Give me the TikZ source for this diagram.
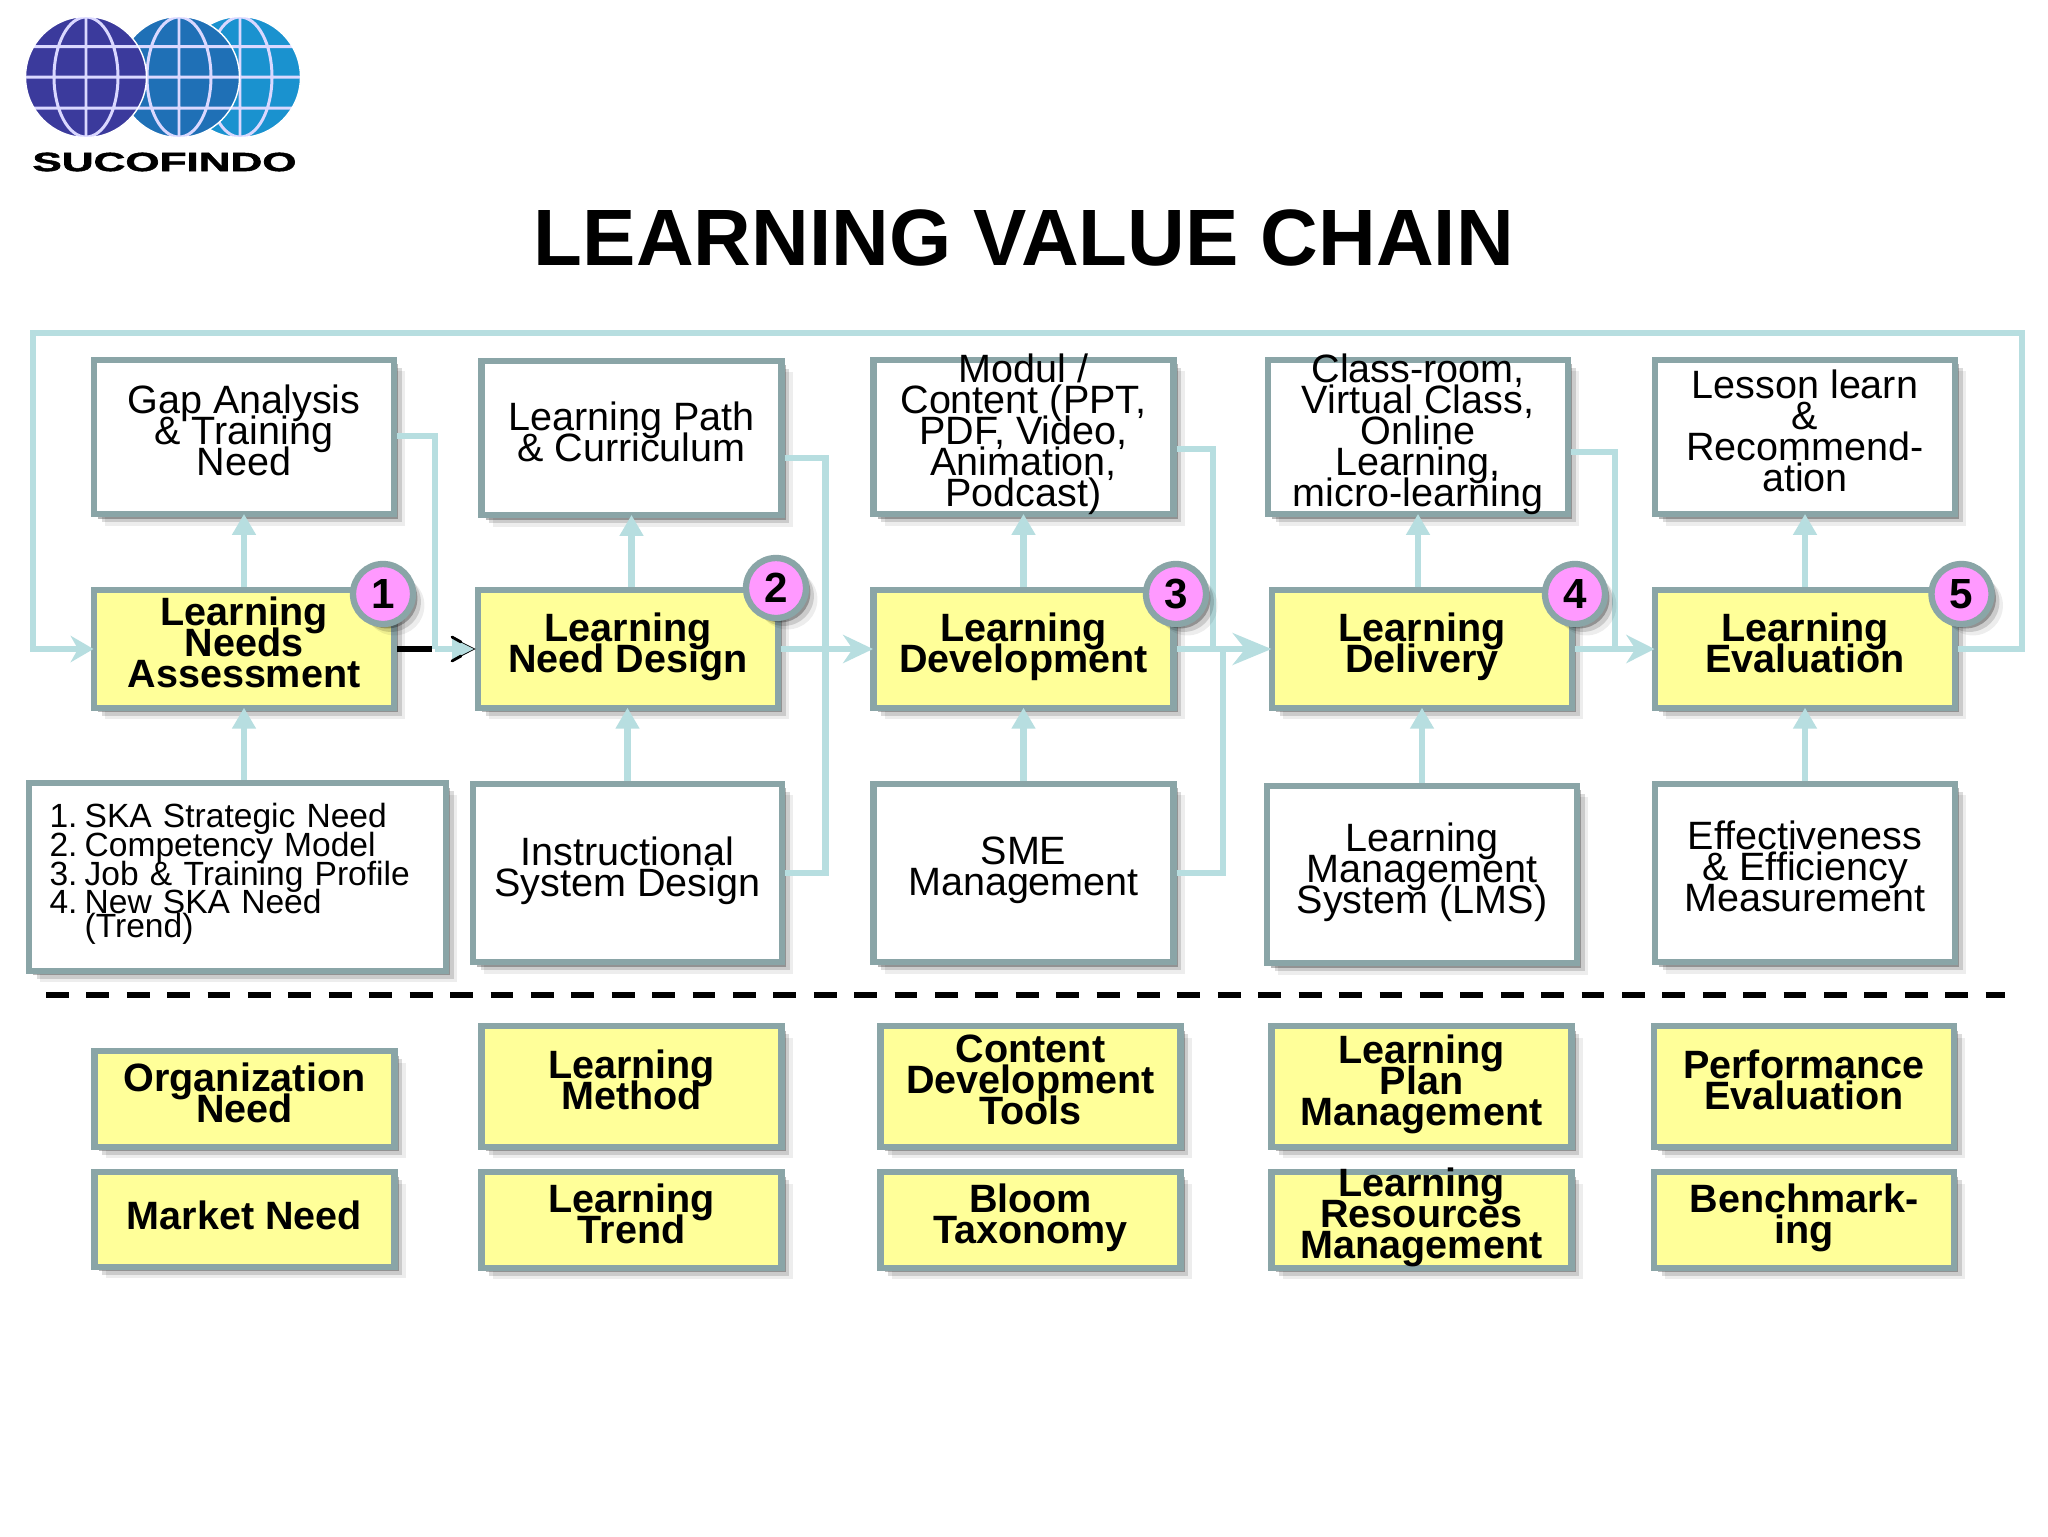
\documentclass[tikz,border=0pt]{standalone}
\usepackage{fontspec}
\setmainfont{Liberation Sans}
\usetikzlibrary{arrows.meta,shadows}
\lineskiplimit=-100pt
\normallineskiplimit=-100pt
\newcommand\liftrow{\\[-10.2pt]\mbox{}}
\definecolor{boxedge}{HTML}{8AA5A7}
\definecolor{boxyellow}{HTML}{FFFF99}
\definecolor{linkteal}{HTML}{B7DEE0}
\definecolor{badgepink}{HTML}{FF99FF}
\definecolor{globeline}{HTML}{DAD8FF}
\tikzset{
  softshadow/.style={general shadow={shadow xshift=2.5pt,shadow yshift=-2.5pt,fill=black,opacity=.28},
    general shadow={shadow xshift=4.5pt,shadow yshift=-4.5pt,fill=black,opacity=.14},
    general shadow={shadow xshift=6.5pt,shadow yshift=-6.5pt,fill=black,opacity=.07}},
  plainbox/.style={rectangle,draw=boxedge,fill=white,line width=3.6pt,inner xsep=0pt,inner ysep=-25pt,
    align=center,softshadow,font=\fontsize{22.5}{17.6}\selectfont,minimum width=6cm,minimum height=3.09cm},
  yellowbox/.style={plainbox,fill=boxyellow,font=\fontsize{22.5}{17.6}\selectfont\bfseries,minimum height=2.36cm},
  badge/.style={circle,draw=boxedge,fill=badgepink,line width=3.6pt,inner sep=0pt,minimum size=1.2cm,
    softshadow,font=\fontsize{24}{24}\selectfont\bfseries},
  link/.style={draw=linkteal,line width=3.8pt,line join=miter},
  uplink/.style={link,shorten >=-2pt,-{Triangle[length=12pt,width=13pt]}},
  chevlink/.style 2 args={link,shorten >=-1.5pt,-{Stealth[length=#1,width=#2,inset=.32*#1]}}
}
\begin{document}
\begin{tikzpicture}[x=0.02cm,y=-0.02cm]
\useasboundingbox (0,0) rectangle (2048,1536);
\fill[white] (0,0) rectangle (2048,1536);
% logo
\foreach \gx/\gcol in {240/1A92CF,179/1F70B6,86/3B3A9C}{
  \definecolor{globecol}{HTML}{\gcol}
  \fill[globecol] (\gx,77) circle (60.5);
  \begin{scope}
    \clip (\gx,77) circle (60.5);
    \draw[globeline,line width=1.7pt] (\gx-61,46.5) -- (\gx+61,46.5) (\gx-61,77) -- (\gx+61,77) (\gx-61,108) -- (\gx+61,108)
      (\gx,16) -- (\gx,138) (\gx,77) ellipse (32 and 60);
  \end{scope}
  \draw[white,line width=.8pt] (\gx,77) circle (60.5);
}
\node[xscale=1.67,font=\fontsize{15}{15}\selectfont\bfseries\addfontfeature{FakeBold=1.6}] (logotext) at (164.5,162) {SUCOFINDO};
\node[font=\fontsize{45.5}{45.5}\selectfont\bfseries] (title) at (1024,238) {LEARNING VALUE CHAIN};
% top row
\node[plainbox] (gap) at (244,437) {Gap Analysis\\\& Training\\Need\liftrow};
\node[plainbox] (path) at (631.5,438) {Learning Path\\\& Curriculum\liftrow};
\node[plainbox] (modul) at (1023.5,437) {Modul /\\Content (PPT,\\PDF, Video,\\Animation,\\Podcast)\liftrow};
\node[plainbox] (class) at (1418,437) {Class-room,\\Virtual Class,\\Online\\Learning,\\micro-learning\liftrow};
\node[plainbox] (lesson) at (1805,437) {Lesson learn\\\&\\Recommend-\\ation\liftrow};
% main chain
\node[yellowbox] (assess) at (244,649) {Learning\\Needs\\Assessment\liftrow};
\node[yellowbox] (design) at (628,649) {Learning\\Need Design\liftrow};
\node[yellowbox] (develop) at (1023.5,649) {Learning\\Development\liftrow};
\node[yellowbox] (deliver) at (1422,649) {Learning\\Delivery\liftrow};
\node[yellowbox] (evaluate) at (1805,649) {Learning\\Evaluation\liftrow};
% third row
\node[plainbox,minimum width=8.34cm,minimum height=3.75cm,text width=7.52cm,align=left,font=\fontsize{19.1}{16.3}\selectfont] (ska) at (237.5,877)
  {\makebox[20pt][l]{1.}SKA Strategic Need\\\makebox[20pt][l]{2.}Competency Model\\\makebox[20pt][l]{3.}Job \& Training Profile\\\makebox[20pt][l]{4.}New SKA Need\\[-3pt]\makebox[20pt][l]{}(Trend)\\[-8.8pt]\mbox{}};
\node[plainbox,minimum width=6.18cm,minimum height=3.57cm] (system) at (627.5,873) {Instructional\\System Design\liftrow};
\node[plainbox,minimum height=3.57cm] (sme) at (1023.5,873) {SME\\Management\liftrow};
\node[plainbox,minimum width=6.2cm,minimum height=3.55cm] (lms) at (1422,874.5) {Learning\\Management\\System (LMS)\liftrow};
\node[plainbox,minimum height=3.57cm] (measure) at (1805,873) {Effectiveness\\\& Efficiency\\Measurement\liftrow};
% dashed divider
\coordinate (dashl) at (46,995);
\coordinate (dashr) at (2005,995);
\draw[black,line width=3.3pt,dash pattern=on 13pt off 10pt] (dashl) -- (dashr);
% bottom rows
\node[yellowbox,minimum height=1.91cm] (org) at (244.5,1099) {Organization\\Need\liftrow};
\node[yellowbox,minimum height=1.89cm] (market) at (244.5,1219.5) {Market Need\\[-13.2pt]\mbox{}};
\node[yellowbox,minimum height=2.41cm] (method) at (631.5,1086.5) {Learning\\Method\liftrow};
\node[yellowbox,minimum height=1.91cm] (trend) at (631.5,1220) {Learning\\Trend\liftrow};
\node[yellowbox,minimum height=2.41cm] (tools) at (1030.5,1086.5) {Content\\Development\\Tools\liftrow};
\node[yellowbox,minimum height=1.91cm] (bloom) at (1030.5,1220) {Bloom\\Taxonomy\liftrow};
\node[yellowbox,minimum height=2.41cm] (plan) at (1421.5,1086.5) {Learning\\Plan\\Management\liftrow};
\node[yellowbox,minimum height=1.91cm] (resource) at (1421.5,1220) {Learning\\Resources\\Management\liftrow};
\node[yellowbox,minimum height=2.41cm] (perform) at (1804,1086.5) {Performance\\Evaluation\liftrow};
\node[yellowbox,minimum height=1.91cm] (bench) at (1804,1220) {Benchmark-\\ing\liftrow};
% connectors
\draw[uplink] (assess.north) -- (gap.south);
\draw[uplink] (design.north -| path.south) -- (path.south);
\draw[uplink] (develop.north) -- (modul.south);
\draw[uplink] (deliver.north -| class.south) -- (class.south);
\draw[uplink] (evaluate.north) -- (lesson.south);
\draw[uplink] (assess.south |- ska.north) -- (assess.south);
\draw[uplink] (system.north) -- (design.south -| system.north);
\draw[uplink] (sme.north) -- (develop.south);
\draw[uplink] (lms.north) -- (deliver.south);
\draw[uplink] (measure.north) -- (evaluate.south);
\draw[chevlink={13pt}{15pt}] (evaluate.east) -- (2022,649) -- (2022,333) -- (33,333) -- (33,649) -- (assess.west);
\draw[link] (gap.east |- 0,436) -- (435,436) -- (435,649);
\draw[link,-{Triangle[length=13pt,width=13pt]}] (435,649) -- (design.west);
\draw[black,line width=3.2pt] (assess.east) -- (432,649);
\draw[black,line width=1.6pt,line cap=round] (452,637) -- (461,642) (452,661) -- (461,656);
\draw[black,line width=.4pt] (461,642) -- (design.west) -- (461,656);
\draw[link] (path.east |- 0,458) -- (825.5,458) -- (825.5,649);
\draw[link] (system.east |- 0,873) -- (825.5,873) -- (825.5,649);
\draw[chevlink={17pt}{16pt}] (design.east) -- (develop.west);
\draw[link] (modul.east |- 0,449) -- (1213,449) -- (1213,649);
\draw[link] (sme.east |- 0,873) -- (1223,873) -- (1223,649);
\draw[chevlink={22pt}{18pt}] (develop.east) -- (deliver.west);
\draw[link] (class.east |- 0,452) -- (1615,452) -- (1615,649);
\draw[chevlink={16pt}{16pt}] (deliver.east) -- (evaluate.west);
% badges
\node[badge] (one) at (383,594) {1};
\node[badge] (two) at (776,588) {2};
\node[badge] (three) at (1176,594) {3};
\node[badge] (four) at (1575,594) {4};
\node[badge] (five) at (1961.5,594) {5};
\end{tikzpicture}
\end{document}
